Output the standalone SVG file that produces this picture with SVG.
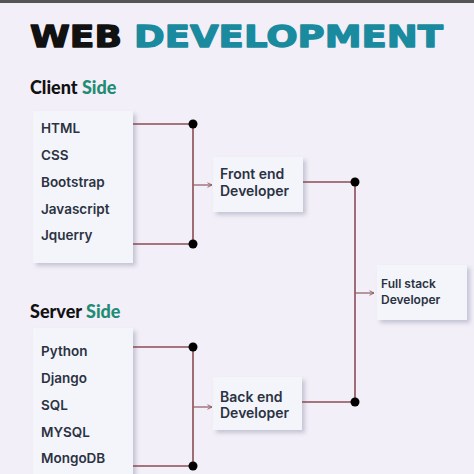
<svg xmlns="http://www.w3.org/2000/svg" width="474" height="474" viewBox="0 0 474 474">
<defs>
<filter id="sh" x="-20%" y="-20%" width="150%" height="150%">
<feDropShadow dx="3" dy="3" stdDeviation="2" flood-color="#8a93a8" flood-opacity="0.45"/>
</filter>
<marker id="ar" viewBox="0 0 8 8" refX="7" refY="4" markerWidth="6" markerHeight="6" orient="auto" markerUnits="userSpaceOnUse">
<path d="M1,1 L7,4 L1,7" fill="none" stroke="#8a5a60" stroke-width="1.2"/>
</marker>
</defs>
<style>
.bg{fill:#f3eff8}
.box{fill:#f4f5fb;filter:url(#sh)}
.item{font-family:Inter,"Liberation Sans",sans-serif;font-weight:600;font-size:13.5px;fill:#2b3242}
.role{font-family:Inter,"Liberation Sans",sans-serif;font-weight:600;font-size:14px;fill:#2b3242}
.role2{font-family:Inter,"Liberation Sans",sans-serif;font-weight:600;font-size:12px;fill:#2b3242}
.head{font-family:Lato,"Open Sans",sans-serif;font-weight:900;font-size:18px;fill:#111}
.green{fill:#1f8c74}
.ttl{font-family:"DejaVu Sans",sans-serif;font-weight:700;font-size:30px;stroke-width:1.3;stroke-linejoin:round}
.ln{fill:none;stroke:#8c4c54;stroke-width:1.6}
.arr{fill:none;stroke:#8a5a60;stroke-width:1.2;marker-end:url(#ar)}
.dot{fill:#000}
</style>
<rect class="bg" x="0" y="0" width="474" height="474"/>
<rect x="0" y="0" width="474" height="3" fill="#555"/>
<g id="title">
<text class="ttl" x="30" y="47" fill="#111" stroke="#111" textLength="92" lengthAdjust="spacingAndGlyphs">WEB</text>
<text class="ttl" x="134" y="47" fill="#1a8a9f" stroke="#1a8a9f" textLength="309" lengthAdjust="spacingAndGlyphs">DEVELOPMENT</text>
</g>
<g id="client-side">
<text class="head" x="30" y="94">Client <tspan class="green">Side</tspan></text>
<rect class="box" x="33" y="111" width="100" height="152"/>
<text class="item" x="41" y="133">HTML</text>
<text class="item" x="41" y="160">CSS</text>
<text class="item" x="41" y="187">Bootstrap</text>
<text class="item" x="41" y="214">Javascript</text>
<text class="item" x="41" y="240">Jquerry</text>
</g>
<g id="server-side">
<text class="head" x="30" y="318">Server <tspan class="green">Side</tspan></text>
<rect class="box" x="33" y="328" width="100" height="160"/>
<text class="item" x="41" y="356">Python</text>
<text class="item" x="41" y="383">Django</text>
<text class="item" x="41" y="410">SQL</text>
<text class="item" x="41" y="437">MYSQL</text>
<text class="item" x="41" y="463">MongoDB</text>
</g>
<g id="front-end">
<rect class="box" x="213" y="157" width="90" height="55"/>
<text class="role" x="220" y="179">Front end</text>
<text class="role" x="220" y="196">Developer</text>
</g>
<g id="back-end">
<rect class="box" x="213" y="377" width="89" height="53"/>
<text class="role" x="220" y="402">Back end</text>
<text class="role" x="220" y="418">Developer</text>
</g>
<g id="full-stack">
<rect class="box" x="377" y="265" width="90" height="55"/>
<text class="role2" x="381" y="288">Full stack</text>
<text class="role2" x="381" y="304">Developer</text>
</g>
<g id="connectors">
<path class="ln" d="M133,124 H193 V244 H133"/>
<path class="arr" d="M193,185 H212"/>
<path class="ln" d="M133,347 H193 V466 H133"/>
<path class="arr" d="M193,407 H212"/>
<path class="ln" d="M303,182 H355 V402 H302"/>
<path class="arr" d="M355,293 H374"/>
<circle class="dot" cx="193" cy="124" r="4.5"/>
<circle class="dot" cx="193" cy="244" r="4.5"/>
<circle class="dot" cx="193" cy="347" r="4.5"/>
<circle class="dot" cx="193" cy="466" r="4.5"/>
<circle class="dot" cx="355" cy="182" r="4.5"/>
<circle class="dot" cx="355" cy="402" r="4.5"/>
</g>
</svg>
